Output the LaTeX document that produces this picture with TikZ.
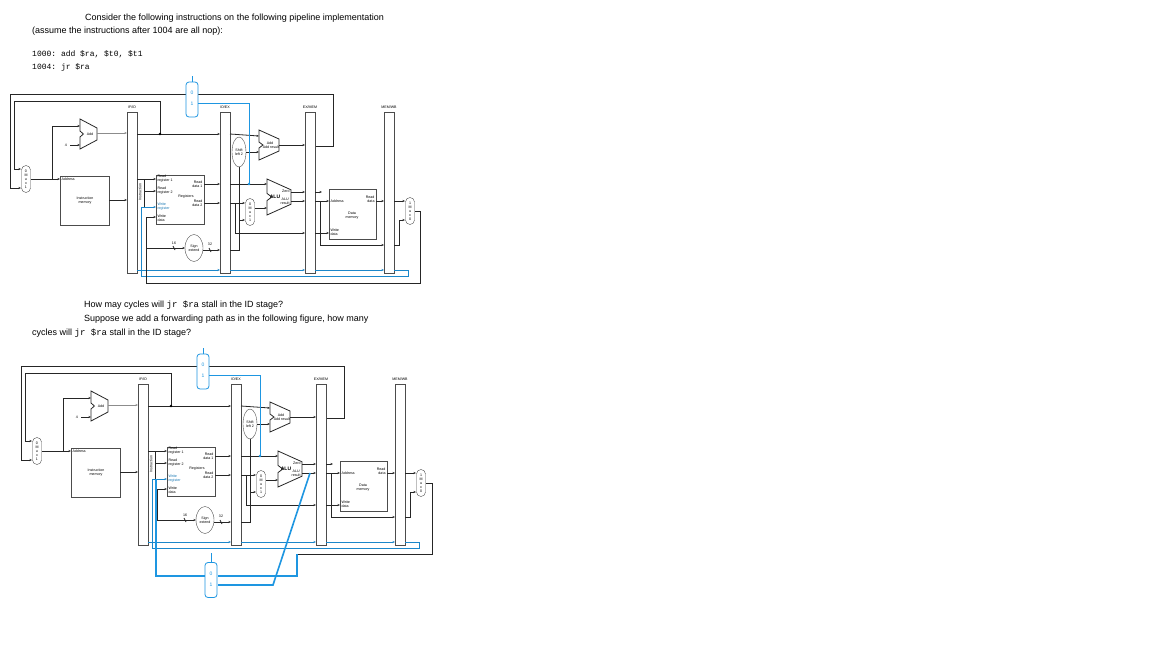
\documentclass[tikz,border=0pt]{standalone}
\usepackage{fontspec}
\setmainfont{Liberation Sans}
\setmonofont{Liberation Mono}
\usetikzlibrary{arrows.meta,shapes.geometric}
\definecolor{fwd}{RGB}{30,150,225}
\tikzset{
  w/.style={line width=0.8pt,draw=black!85},
  a/.style={w,-{Stealth[length=2.5pt,width=2pt]}},
  ab/.style={line width=0.7pt,draw=fwd!90!black,-{Stealth[length=2.5pt,width=2pt]}},
  bl/.style={line width=0.8pt,draw=fwd},
  thick blue/.style={line width=1.6pt,draw=fwd},
  bar/.style={draw=black!70,fill=white,line width=0.6pt},
  box/.style={draw=black!70,fill=white,line width=0.6pt},
  tl/.style={font=\fontsize{3.6}{4}\selectfont,inner sep=0.3pt,align=center},
  mux/.style={draw=black!70,fill=white,rounded corners=4.5pt,minimum width=9pt,inner sep=0pt,font=\fontsize{3.6}{4}\selectfont,align=center},
  bmux/.style={draw=fwd,fill=white,rounded corners=3pt,minimum width=12pt,minimum height=35pt,inner sep=0pt,line width=0.8pt},
  txt/.style={font=\fontsize{9}{11}\selectfont,anchor=base west,inner sep=0pt},
  dot/.style={circle,fill,inner sep=1.2pt}
}
\newcommand\alushape[4]{%
 \draw[w,fill=white] (#1,#2) -- ({#1+#3},{#2+0.3*#4}) -- ({#1+#3},{#2+0.7*#4}) -- (#1,{#2+#4}) -- (#1,{#2+0.6*#4}) -- ({#1+0.2*#3},{#2+0.5*#4}) -- (#1,{#2+0.4*#4}) -- cycle;}
\newcommand\dpath{%
 \draw[a] (316,146) -- (333,146) -- (333,94) -- (10,94) -- (10,188) -- (21,188);
 \draw[a] (160,134) -- (160,101) -- (14,101) -- (14,169) -- (21,169);
 \node[mux,minimum height=27pt] (pcmux) at (26,179) {0\\M\\u\\x\\1};
 \draw[a] (31,179) -- (60,179);
 \draw[a] (52,179) -- (52,126) -- (80,126);
 \node[tl] (four) at (66,145) {4};
 \draw[a] (70,145) -- (80,145);
 \alushape{80}{119}{17}{30}
 \node[tl] (addl) at (90,134) {Add};
 \draw[a,black!45] (97,133) -- (127,133);
 \draw[bar] (127,112) rectangle (137,273);
 \draw[bar] (220,112) rectangle (230,273);
 \draw[bar] (305,112) rectangle (315,273);
 \draw[bar] (384,112) rectangle (394,273);
 \node[tl] (l1) at (132,107) {IF/ID};
 \node[tl] (l2) at (225,107) {ID/EX};
 \node[tl] (l3) at (310,107) {EX/MEM};
 \node[tl] (l4) at (389,107) {MEM/WB};
 \node[tl,rotate=90] (instr) at (140,192) {Instruction};
 \draw[box] (60,176) rectangle (109,225);
 \node[tl,anchor=north west] (iaddr) at (61,177) {Address};
 \node[tl] (imem) at (85,201) {Instruction\\memory};
 \draw[a] (109,200) -- (127,200);
 \draw[a] (137,134) -- (220,134);
 \node[dot,inner sep=1pt] (d1) at (160,134) {};
 \draw[w] (144,179) -- (144,207);
 \draw[a] (137,179) -- (156,179);
 \draw[a] (144,191) -- (156,191);
 \draw[box] (156,175) rectangle (204,224);
 \node[tl,anchor=west,align=left] at (157,179) {Read\\register 1};
 \node[tl,anchor=west,align=left] at (157,191) {Read\\register 2};
 \node[tl,anchor=west,align=left,text=fwd!80!black] at (157,207) {Write\\register};
 \node[tl,anchor=west,align=left] at (157,218) {Write\\data};
 \node[tl] at (186,197) {Registers};
 \node[tl,anchor=east,align=right] at (203,184) {Read\\data 1};
 \node[tl,anchor=east,align=right] at (203,203) {Read\\data 2};
 \draw[a] (204,184) -- (220,184);
 \draw[a] (204,203) -- (220,203);
 \draw[a] (146,217) -- (156,217);
 \draw[w] (146,217) -- (146,248);
 \draw[a] (146,248) -- (185,248);
 \draw[w] (173,246) -- (175,250);
 \node[tl] at (174,243) {16};
 \node[draw=black!70,fill=white,ellipse,minimum width=18pt,minimum height=27pt,inner sep=0pt,tl] (sext) at (194,248) {Sign\\extend};
 \draw[a] (203,250) -- (220,250);
 \draw[w] (209,248) -- (211,252);
 \node[tl] at (210,244) {32};
 \draw[a] (230,134) -- (259,136);
 \draw[w] (230,250) -- (239,250) -- (239,167);
 \node[draw=black!70,fill=white,ellipse,minimum width=14pt,minimum height=30pt,inner sep=0pt,tl] (shl) at (239,152) {Shift\\left 2};
 \draw[a] (246,152) -- (259,152);
 \alushape{259}{130}{20}{30}
 \node[tl] at (270,145) {Add\\\hphantom{x}Add result};
 \draw[a] (279,145) -- (305,145);
 \draw[a] (230,184) -- (267,184);
 \draw[a] (230,203) -- (245,203);
 \draw[w] (235,203) -- (235,233);
 \draw[a] (235,233) -- (305,233);
 \draw[a] (239,220) -- (245,220);
 \node[mux,minimum height=27pt] (amux) at (250,212) {0\\M\\u\\x\\1};
 \draw[a] (255,208) -- (267,208);
 \alushape{267}{179}{24}{36}
 \node[font=\fontsize{5}{5}\bfseries\selectfont,inner sep=0pt] at (275,197) {ALU};
 \node[tl,anchor=east] at (290,191) {Zero};
 \node[tl,anchor=east] at (290,201) {ALU\\result};
 \draw[a] (291,192) -- (305,192);
 \draw[a] (291,201) -- (305,201);
 \draw[a] (315,192) -- (322,192);
 \draw[a] (315,201) -- (329,201);
 \draw[w] (320,201) -- (320,245);
 \draw[a] (320,245) -- (384,245);
 \draw[a] (315,233) -- (329,233);
 \draw[box] (329,189) rectangle (376,239);
 \node[tl,anchor=west] at (330,201) {Address};
 \node[tl,anchor=east,align=right] at (375,199) {Read\\data};
 \node[tl] at (352,216) {Data\\memory};
 \node[tl,anchor=west,align=left] at (330,232) {Write\\data};
 \draw[a] (376,201) -- (384,201);
 \draw[a] (394,201) -- (405,201);
 \draw[w] (394,245) -- (399,245) -- (399,220);
 \draw[a] (399,220) -- (405,220);
 \node[mux,minimum height=27pt] (wmux) at (410,211) {1\\M\\u\\x\\0};
 \draw[ab] (137,270) -- (220,270);
 \draw[ab] (230,270) -- (305,270);
 \draw[ab] (315,270) -- (384,270);
 \draw[ab] (394,270) -- (408,270) -- (408,276) -- (141,276) -- (141,207) -- (156,207);
 \draw[bl] (192,76) -- (192,82);
 \node[bmux] (tm) at (192,99.5) {};
 \node[font=\fontsize{5}{5}\selectfont,text=fwd] at (192,93) {0};
 \node[font=\fontsize{5}{5}\selectfont,text=fwd] at (192,104) {1};
 \draw[bl] (198,103) -- (249,103) -- (249,184);
 \node[dot,fill=fwd,inner sep=1pt] (d2) at (249,184) {};
}
\begin{document}
\begin{tikzpicture}[x=1pt,y=-1pt]
\useasboundingbox (0,0) rectangle (1152,648);
\fill[white] (0,0) rectangle (1152,648);
\node[txt] (t1) at (85,20) {Consider the following instructions on the following pipeline implementation};
\node[txt] (t2) at (32,33) {(assume the instructions after 1004 are all nop):};
\node[txt,font=\ttfamily\fontsize{8}{9}\selectfont] (c1) at (32,56) {1000: add \$ra, \$t0, \$t1};
\node[txt,font=\ttfamily\fontsize{8}{9}\selectfont] (c2) at (32,69) {1004: jr \$ra};
\node[txt] (q1) at (84,307) {How may cycles will \texttt{jr \$ra} stall in the ID stage?};
\node[txt] (q2) at (84,321) {Suppose we add a forwarding path as in the following figure, how many};
\node[txt] (q3) at (32,335) {cycles will \texttt{jr \$ra} stall in the ID stage?};
\begin{scope}
 \dpath
 \draw[w] (415,211) -- (420,211) -- (420,283) -- (146,283) -- (146,248);
\end{scope}
\begin{scope}[shift={(11,272)}]
 \dpath
 \draw[w] (415,211) -- (421,211) -- (421,282) -- (286,282);
 \draw[thick blue] (145,207) -- (145,304) -- (195,304);
 \draw[thick blue] (207,304) -- (286,304) -- (286,282);
 \draw[thick blue] (207,313) -- (262,313) -- (299,201);
 \draw[bl] (200,281) -- (200,291);
 \node[bmux] (bm) at (200,308) {};
 \node[font=\fontsize{5}{5}\selectfont,text=fwd] at (200,302) {0};
 \node[font=\fontsize{5}{5}\selectfont,text=fwd] at (200,313) {1};
\end{scope}
\end{tikzpicture}
\end{document}
